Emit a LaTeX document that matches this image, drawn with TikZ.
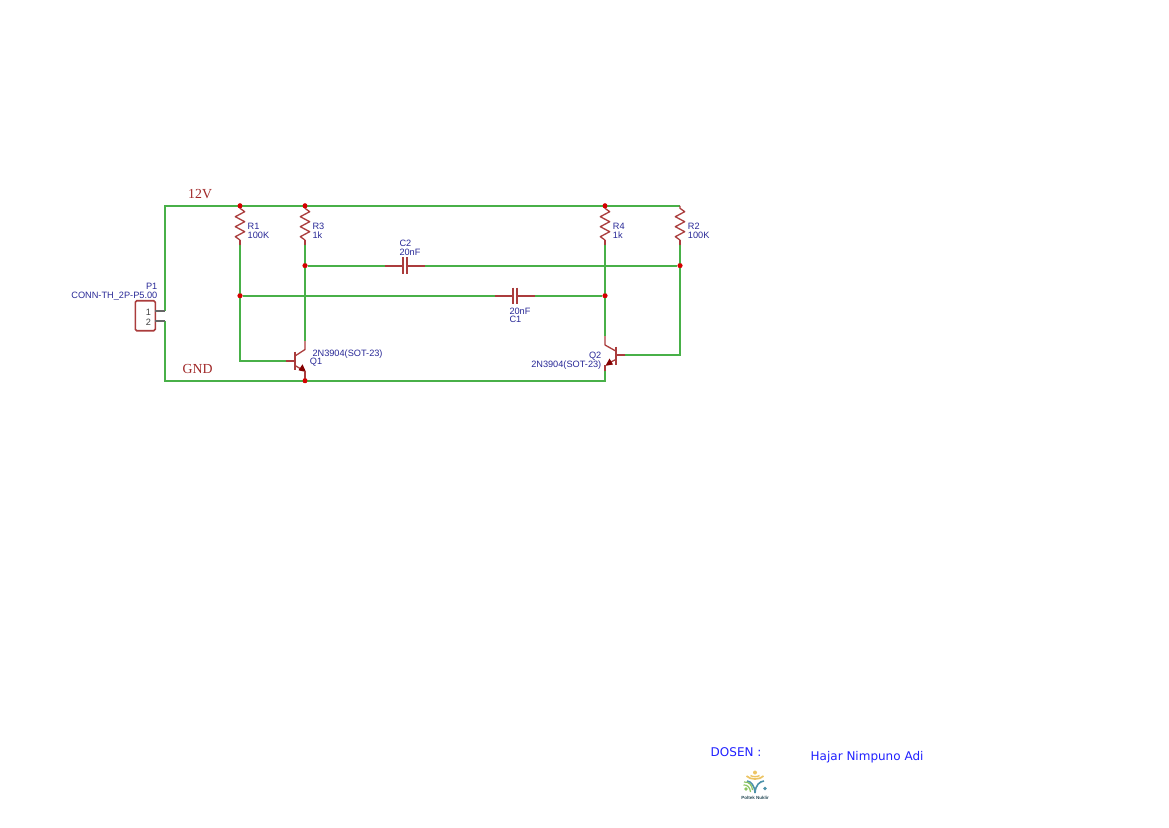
\documentclass[tikz,border=0pt]{standalone}
\usepackage{fontspec}
\setmainfont{Liberation Sans}
\newfontfamily\serifF{Liberation Serif}
\newfontfamily\dejaF{DejaVu Sans}
\usetikzlibrary{arrows.meta}
\definecolor{wirec}{RGB}{72,176,72}
\definecolor{symc}{RGB}{170,60,60}
\definecolor{darksym}{RGB}{132,0,0}
\definecolor{dotc}{RGB}{214,0,0}
\definecolor{txtc}{RGB}{40,40,150}
\definecolor{netc}{RGB}{160,40,40}
\definecolor{bluec}{RGB}{32,32,255}
\definecolor{logoy}{RGB}{236,196,100}
\definecolor{logot}{RGB}{76,146,170}
\definecolor{logog}{RGB}{140,196,96}
\tikzset{
  wire/.style={draw=wirec,line width=1.9pt},
  sym/.style={draw=symc,line width=1.3pt,line join=round},
  symst/.style={draw=symc,line width=1.9pt},
  junc/.style={circle,fill=dotc,inner sep=0pt,minimum size=5pt},
  lab/.style={inner sep=0pt,text=txtc,font=\fontsize{9.2}{10}\selectfont,anchor=base west},
  labr/.style={lab,anchor=base east},
  pinnum/.style={inner sep=0pt,text=black!75,font=\fontsize{9.2}{10}\selectfont,anchor=base},
  net/.style={inner sep=0pt,text=netc,font=\serifF\fontsize{13.8}{14}\selectfont,anchor=base west},
  big/.style={inner sep=0pt,text=bluec,font=\dejaF\fontsize{12}{13}\selectfont,anchor=base west},
  resistor/.pic={
    \coordinate (-top) at (0,0);
    \coordinate (-bot) at (0,39.2);
    \draw[sym] (0,0) -- (0,2.5) -- (4.7,5.9) -- (-4.7,10.9) -- (4.7,15.9) -- (-4.7,20.9) -- (4.7,25.9) -- (-4.7,30.9) -- (0,34.2);
    \draw[symst] (0,34.2) -- (0,39.2);
  },
  capacitor/.pic={
    \coordinate (-l) at (-20,0);
    \coordinate (-r) at (20,0);
    \draw[symst] (-20,0) -- (-2,0) (-2,-8.2) -- (-2,8.2) (2,-8.2) -- (2,8.2) (2,0) -- (20,0);
  },
}
\begin{document}
\begin{tikzpicture}[x=1pt,y=-1pt]
\useasboundingbox (0,0) rectangle (1169,827);

% named points
\coordinate (tl) at (165,205.8);
\coordinate (tr) at (680,205.8);
\coordinate (bl) at (165,380.7);
\coordinate (pin1) at (165,310.8);
\coordinate (pin2) at (165,320.8);
\coordinate (q1b) at (285.5,360.7);
\coordinate (q1bl) at (240,360.7);
\coordinate (q1c) at (305,341);
\coordinate (q1e) at (305,380.7);
\coordinate (q2b) at (625,355);
\coordinate (q2br) at (680,355);
\coordinate (q2c) at (605,336);
\coordinate (q2e) at (605,371);

% junctions
\node[junc] (j1) at (240,205.8) {};
\node[junc] (j3) at (305,205.8) {};
\node[junc] (j4) at (605,205.8) {};
\node[junc] (jc3) at (305,265.6) {};
\node[junc] (jc2) at (680,265.6) {};
\node[junc] (jb1) at (240,295.7) {};
\node[junc] (jb2) at (605,295.7) {};
\node[junc] (jg) at (305,380.7) {};
\coordinate (bq2) at (605,380.7);

% wires
\draw[wire] (pin1) -- (tl) -- (tr);
\draw[wire] (pin2) -- (bl) -- (bq2) -- (q2e);

% resistors
\pic (r1) at (240,205.8) {resistor};
\pic (r3) at (305,205.8) {resistor};
\pic (r4) at (605,205.8) {resistor};
\pic (r2) at (680,205.8) {resistor};

\draw[wire] (r1-bot) -- (q1bl) -- (q1b);
\draw[wire] (r3-bot) -- (q1c);
\draw[wire] (r4-bot) -- (q2c);
\draw[wire] (r2-bot) -- (q2br) -- (q2b);

% capacitors
\pic (c2) at (405.3,265.6) {capacitor};
\pic (c1) at (515.3,295.7) {capacitor};
\draw[wire] (jc3) -- (c2-l);
\draw[wire] (c2-r) -- (jc2);
\draw[wire] (jb1) -- (c1-l);
\draw[wire] (c1-r) -- (jb2);

% connector
\draw[draw=symc,line width=1.6pt,rounded corners=1.5pt] (135.3,300.7) rectangle (155.3,330.7);
\draw[draw=black!60,line width=1.9pt] (155.3,310.8) -- (pin1) (155.3,320.8) -- (pin2);

% Q1
\draw[symst] (q1b) -- (295,360.7);
\draw[symst] (295,351.7) -- (295,370);
\draw[sym] (q1c) -- (305,349.5) -- (295,356);
\draw[sym] (295,365.5) -- (301,369);
\fill[darksym] (306,372) -- (298.5,370.3) -- (302.5,364.3) -- cycle;
\draw[symst] (305,371) -- (q1e);

% Q2
\draw[symst] (q2b) -- (615.7,355);
\draw[symst] (615.7,346.7) -- (615.7,365);
\draw[sym] (q2c) -- (605,345) -- (615.7,351);
\draw[sym] (615.7,359.5) -- (611,362);
\fill[darksym] (605.5,365.8) -- (609.5,358.5) -- (613,364.5) -- cycle;
\draw[symst] (605,365) -- (q2e);

% labels
\node[net] (n12) at (188,198.3) {12V};
\node[net] (ngnd) at (182.5,373.3) {GND};
\node[lab] (lr1) at (247.5,229.3) {R1};
\node[lab] (vr1) at (247.5,238) {100K};
\node[lab] (lr3) at (312.3,229.3) {R3};
\node[lab] (vr3) at (312.3,238) {1k};
\node[lab] (lr4) at (612.7,229.3) {R4};
\node[lab] (vr4) at (612.7,238) {1k};
\node[lab] (lr2) at (687.7,229.3) {R2};
\node[lab] (vr2) at (687.7,238) {100K};
\node[lab] (lc2) at (399.3,246.7) {C2};
\node[lab] (vc2) at (399.3,255) {20nF};
\node[lab] (vc1) at (509.3,314.5) {20nF};
\node[lab] (lc1) at (509.3,322.5) {C1};
\node[labr] (lp1) at (157.5,289) {P1};
\node[labr] (vp1) at (157.5,298) {CONN-TH\_2P-P5.00};
\node[pinnum] (n1) at (148.5,315) {1};
\node[pinnum] (n2) at (148.5,325) {2};
\node[lab] (vq1) at (312.3,356.8) {2N3904(SOT-23)};
\node[lab] (lq1) at (309.7,364.6) {Q1};
\node[labr] (lq2) at (601.5,358.8) {Q2};
\node[labr] (vq2) at (601.5,367.8) {2N3904(SOT-23)};

\node[big] (dosen) at (710.5,756) {DOSEN :};
\node[big] (hajar) at (810.5,760.7) {Hajar Nimpuno Adi};

% logo
\fill[logoy] (755,772.5) circle (2);
\draw[logoy,line width=1.7pt] (746.5,776) .. controls (750,780) and (760,780) .. (763.5,776);
\draw[logoy,line width=1.4pt] (750.5,775.5) .. controls (752,777) and (758,777) .. (759.5,775.5);
\draw[logot,line width=1.6pt] (747,781) .. controls (751,781.5) and (754.5,785) .. (755,793);
\draw[logot,line width=1.6pt] (764,781) .. controls (759.5,781.5) and (755.5,785) .. (755,793);
\fill[logog] (746,789) circle (1.8);
\draw[logog,line width=1.2pt] (743.5,785) .. controls (747,784.5) and (750,787) .. (750.5,792);
\draw[logog,line width=1.2pt] (744,782) .. controls (749,781.5) and (752,785) .. (752.5,790);
\fill[logot] (765,788.5) circle (1.9);
\node[inner sep=0pt,text=black!50!logot,font=\bfseries\fontsize{4.5}{5}\selectfont] (logo) at (755,798) {Poltek Nuklir};

% junctions on top
\foreach \j in {j1,j3,j4,jc3,jc2,jb1,jb2,jg}{\fill[dotc] (\j) circle (2.4);}
\end{tikzpicture}
\end{document}
